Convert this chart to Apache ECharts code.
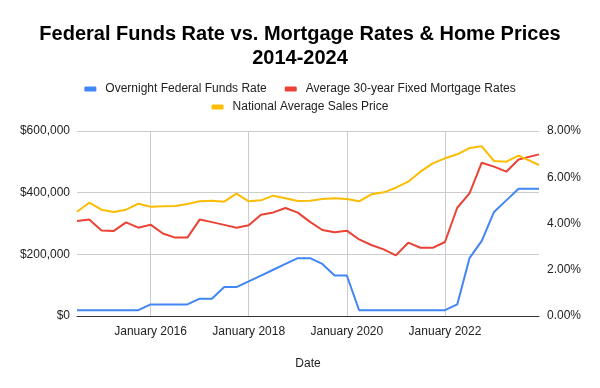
<!DOCTYPE html>
<html>
<head>
<meta charset="utf-8">
<script src="https://cdn.jsdelivr.net/npm/echarts@6/dist/echarts.min.js"></script>
<style>
  html, body { margin: 0; padding: 0; background: #fff; }
  #chart { width: 600px; height: 388px; }
</style>
</head>
<body>
<div id="chart"></div>
<script>
// Observation dates (year-month)
const dates = [
  '2014-07','2014-10',
  '2015-01','2015-04','2015-07','2015-10',
  '2016-01','2016-04','2016-07','2016-10',
  '2017-01','2017-04','2017-07','2017-10',
  '2018-01','2018-04','2018-07','2018-10',
  '2019-01','2019-04','2019-07','2019-10',
  '2020-01','2020-04','2020-07','2020-10',
  '2021-01','2021-04','2021-07','2021-10',
  '2022-01','2022-04','2022-07','2022-10',
  '2023-01','2023-04','2023-07','2023-12'
];
// Overnight Federal Funds Rate (%)
const fedFunds = [
  0.25, 0.25,
  0.25, 0.25, 0.25, 0.25,
  0.50, 0.50, 0.50, 0.50,
  0.75, 0.75, 1.25, 1.25,
  1.50, 1.75, 2.00, 2.25,
  2.50, 2.50, 2.25, 1.75,
  1.75, 0.25, 0.25, 0.25,
  0.25, 0.25, 0.25, 0.25,
  0.25, 0.50, 2.50, 3.25,
  4.50, 5.00, 5.50, 5.50
];
// Average 30-year Fixed Mortgage Rates (%)
const mortgage = [
  4.11, 4.17,
  3.70, 3.68, 4.05, 3.82,
  3.95, 3.57, 3.39, 3.39,
  4.17, 4.06, 3.94, 3.82,
  3.92, 4.38, 4.48, 4.67,
  4.47, 4.07, 3.72, 3.62,
  3.69, 3.31, 3.07, 2.88,
  2.62, 3.17, 2.95, 2.95,
  3.20, 4.68, 5.30, 6.63,
  6.46, 6.24, 6.77, 6.99
];
// National Average Sales Price ($)
const homePrice = [
  338300, 367400,
  344800, 337300, 344800, 364200,
  354500, 355700, 356700, 363200,
  371900, 374000, 370700, 396700,
  371900, 375200, 390200, 381700,
  373000, 374000, 379400, 381700,
  379400, 371900, 394600, 401100,
  416100, 435600, 468000, 495200,
  511400, 524400, 544800, 550300,
  502700, 500400, 519900, 489700
];
const seriesNames = [
  'Overnight Federal Funds Rate',
  'Average 30-year Fixed Mortgage Rates',
  'National Average Sales Price'
];
const monthNames = ['January','February','March','April','May','June','July','August','September','October','November','December'];

// Monthly category axis spanning the observations
function monthRange(a, b) {
  let [y, m] = a.split('-').map(Number);
  const [ey, em] = b.split('-').map(Number);
  const out = [];
  while (y < ey || (y === ey && m <= em)) {
    out.push(y + '-' + String(m).padStart(2, '0'));
    m++; if (m > 12) { m = 1; y++; }
  }
  return out;
}
const months = monthRange(dates[0], dates[dates.length - 1]);
function align(values) {
  return months.map(mo => {
    const i = dates.indexOf(mo);
    return i >= 0 ? values[i] : null;
  });
}
function isTickMonth(v) {
  const [y, m] = v.split('-').map(Number);
  return m === 1 && y % 2 === 0;
}

const font = '"Liberation Sans", Arial, sans-serif';
const chart = echarts.init(document.getElementById('chart'), null, { renderer: 'canvas' });
chart.setOption({
  animation: false,
  backgroundColor: '#ffffff',
  title: {
    text: 'Federal Funds Rate vs. Mortgage Rates & Home Prices\n2014-2024',
    left: 'center',
    top: 17,
    textStyle: { fontFamily: font, fontSize: 20, fontWeight: 'bold', color: '#000', lineHeight: 24 }
  },
  legend: [
    {
      data: [seriesNames[0], seriesNames[1]],
      left: 'center', top: 78,
      itemWidth: 12, itemHeight: 5, itemGap: 18, icon: 'roundRect',
      textStyle: { fontFamily: font, fontSize: 12, color: '#222', padding: [0, 0, 0, 4] }
    },
    {
      data: [seriesNames[2]],
      left: 'center', top: 96,
      itemWidth: 12, itemHeight: 5, icon: 'roundRect',
      textStyle: { fontFamily: font, fontSize: 12, color: '#222', padding: [0, 0, 0, 4] }
    }
  ],
  grid: { left: 77, right: 61, top: 131, bottom: 72, containLabel: false },
  xAxis: {
    type: 'category',
    data: months,
    boundaryGap: false,
    name: 'Date',
    nameLocation: 'middle',
    nameGap: 42,
    nameTextStyle: { fontFamily: font, fontSize: 12, color: '#222' },
    axisLine: { show: true, lineStyle: { color: '#333', width: 1 } },
    axisTick: { show: false },
    axisLabel: {
      interval: (i, v) => isTickMonth(v),
      formatter: v => { const [y, m] = v.split('-').map(Number); return monthNames[m - 1] + ' ' + y; },
      fontFamily: font, fontSize: 12, color: '#222', margin: 10
    },
    splitLine: { show: true, interval: (i, v) => isTickMonth(v), lineStyle: { color: '#cccccc', width: 1 } }
  },
  yAxis: [
    {
      type: 'value', min: 0, max: 600000, interval: 200000,
      axisLine: { show: false }, axisTick: { show: false },
      axisLabel: {
        formatter: v => '$' + v.toLocaleString('en-US'),
        fontFamily: font, fontSize: 12, color: '#222', margin: 7
      },
      splitLine: { show: true, lineStyle: { color: '#cccccc', width: 1 } }
    },
    {
      type: 'value', min: 0, max: 8, interval: 2,
      axisLine: { show: false }, axisTick: { show: false },
      axisLabel: {
        formatter: v => v.toFixed(2) + '%',
        fontFamily: font, fontSize: 12, color: '#222', margin: 8
      },
      splitLine: { show: false }
    }
  ],
  series: [
    {
      name: seriesNames[0], type: 'line', yAxisIndex: 1,
      data: align(fedFunds), connectNulls: true, showSymbol: false,
      lineStyle: { width: 2, color: '#4285F4' }, itemStyle: { color: '#4285F4' }
    },
    {
      name: seriesNames[1], type: 'line', yAxisIndex: 1,
      data: align(mortgage), connectNulls: true, showSymbol: false,
      lineStyle: { width: 2, color: '#EA4335' }, itemStyle: { color: '#EA4335' }
    },
    {
      name: seriesNames[2], type: 'line', yAxisIndex: 0,
      data: align(homePrice), connectNulls: true, showSymbol: false,
      lineStyle: { width: 2, color: '#FBBC04' }, itemStyle: { color: '#FBBC04' }
    }
  ]
});
</script>
</body>
</html>
